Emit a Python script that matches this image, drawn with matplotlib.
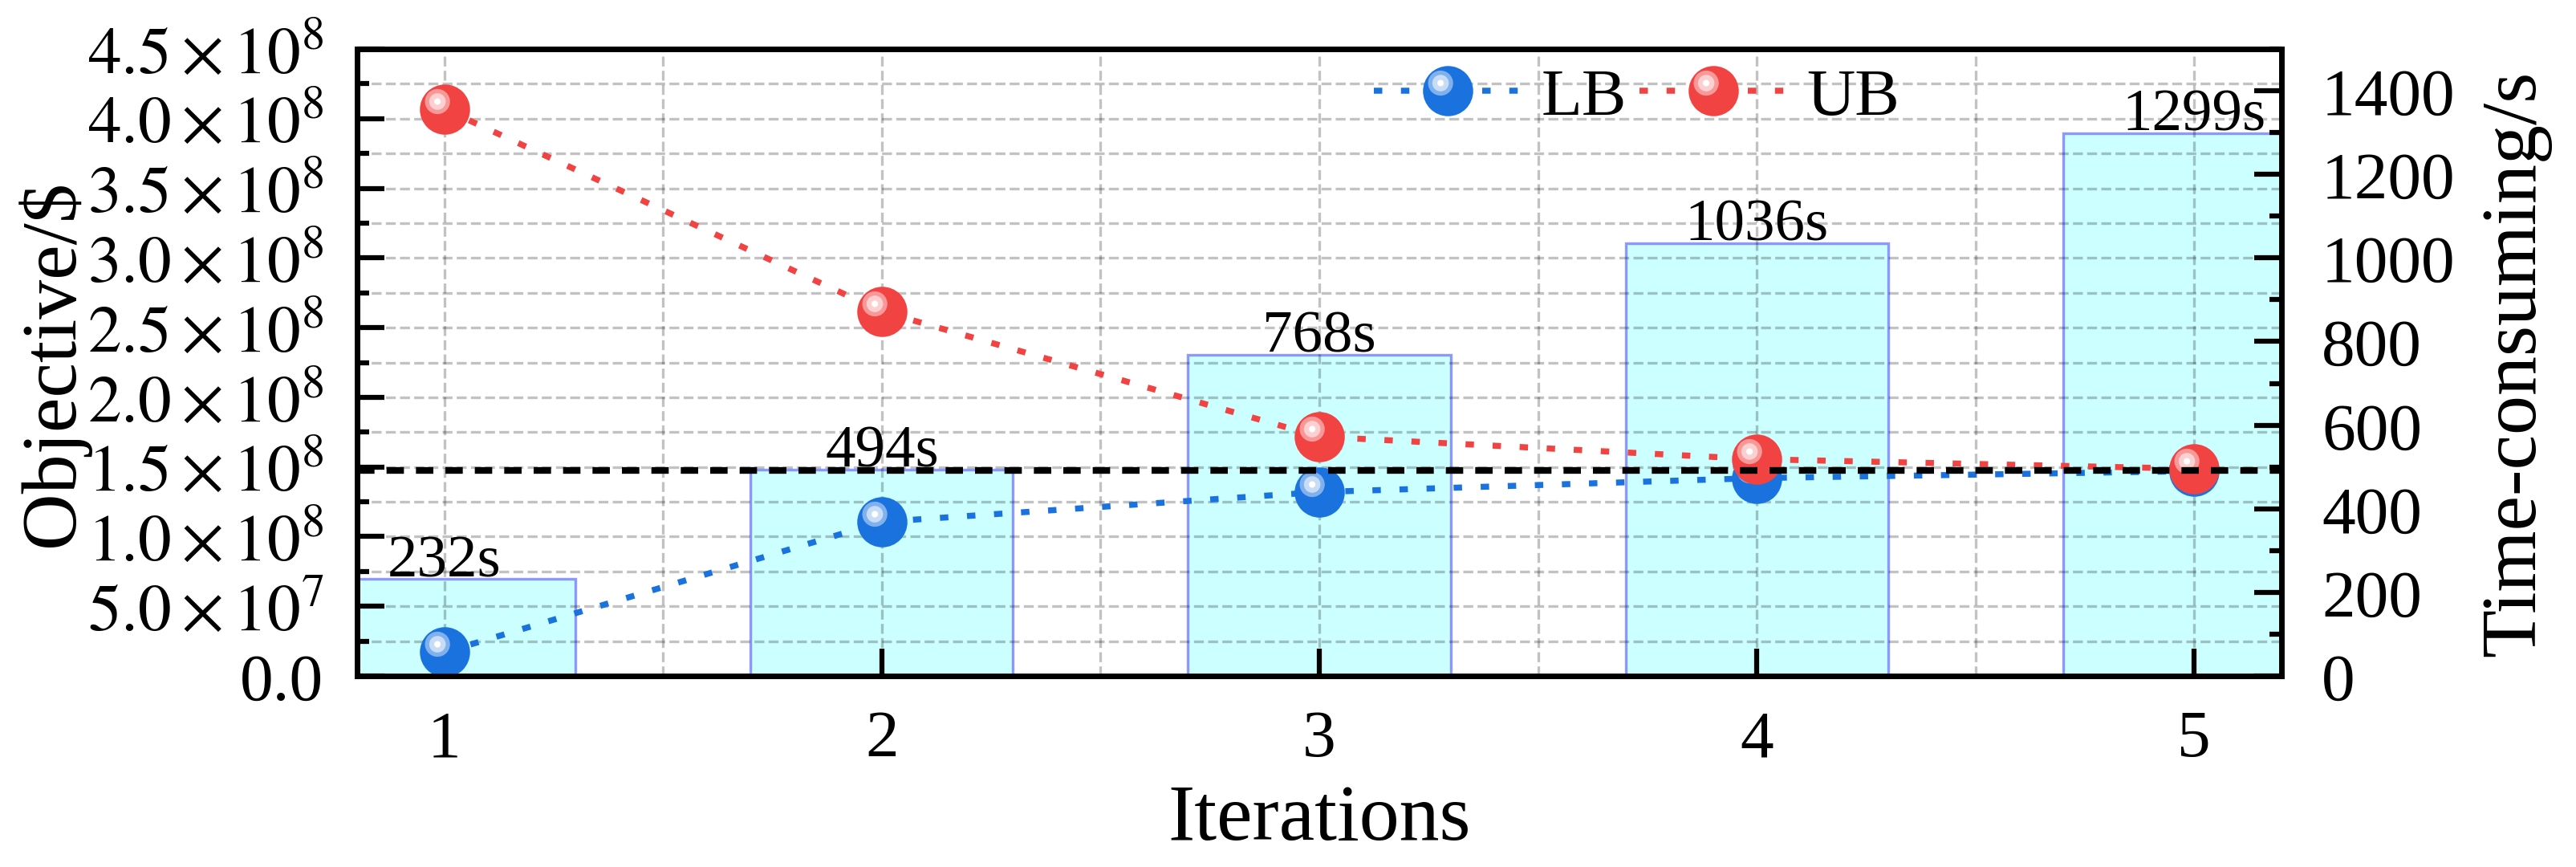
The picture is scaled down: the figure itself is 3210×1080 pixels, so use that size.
import numpy as np
import matplotlib
matplotlib.use('Agg')
import matplotlib.pyplot as plt
from matplotlib.path import Path
from matplotlib.markers import MarkerStyle
from matplotlib.lines import Line2D
from matplotlib.legend_handler import HandlerTuple
from matplotlib.ticker import MultipleLocator, FuncFormatter

plt.rcParams['font.family'] = ['Liberation Serif', 'DejaVu Serif']
plt.rcParams['mathtext.fontset'] = 'stix'

#%% data
iterations = [1, 2, 3, 4, 5]
lower_bound = [0.17e8, 1.106e8, 1.32e8, 1.42e8, 1.47e8]
upper_bound = [4.07e8, 2.616e8, 1.717e8, 1.556e8, 1.487e8]
optimum = 1.475e8
time_cost = [232, 494, 768, 1036, 1299]
time_labels = ['232s', '494s', '768s', '1036s', '1299s']

#%% "glossy ball" markers: base disc + offset highlight discs
def disc(cx, cy, r):
    c = Path.circle((cx, cy), r)
    # lone MOVETO keeps all layers on the same scale
    anchor = Path([[1.0, 0.0]], [Path.MOVETO])
    return MarkerStyle(Path.make_compound_path(c, anchor))

base_mk = disc(0, 0, 1.0)
hl_off = (-0.30, 0.32)
hl_layers = [(0.50, 0.45), (0.33, 0.75), (0.13, 1.0)]  # radius, whiteness

def lighten(col, f):
    rgb = np.array(matplotlib.colors.to_rgb(col))
    return tuple(rgb + (1 - rgb) * f)

ms = 15

def balls(ax, x, y, col, z):
    hs = [ax.plot(x, y, ls='none', marker=base_mk, ms=ms, mfc=col, mec='none', zorder=z)[0]]
    for r, f in hl_layers:
        h, = ax.plot(x, y, ls='none', marker=disc(hl_off[0], hl_off[1], r), ms=ms,
                     mfc=lighten(col, f), mec='none', zorder=z + 0.01)
        hs.append(h)
    return hs

#%% plot
fig = plt.figure(figsize=(10.7, 3.6033), dpi=300)
ax = fig.add_axes([0.1386, 0.2202, 0.8857 - 0.1386, 0.9426 - 0.2202])
ax2 = ax.twinx()
ax.set_zorder(ax2.get_zorder() + 1)
ax.patch.set_visible(False)

ax2.bar(iterations, time_cost, width=0.6, facecolor=(0, 1, 1, 0.2),
        edgecolor=(0.2, 0.2, 1, 0.5), linewidth=0.8)
for xi, v, s in zip(iterations, time_cost, time_labels):
    ax2.text(xi, v + 8, s, ha='center', va='baseline', fontsize=18)

blue = '#1a72df'
red = '#f24343'
dots = (0, (1.4, 3.1))
ax.plot(iterations, lower_bound, ls=dots, lw=1.8, color=blue, zorder=2)
lb_h = balls(ax, iterations, lower_bound, blue, 2.05)
ax.plot(iterations, upper_bound, ls=dots, lw=1.8, color=red, zorder=2.1)
ub_h = balls(ax, iterations, upper_bound, red, 2.15)
ax.axhline(optimum, color='black', lw=2.0, ls=(0, (2.6, 1.8)), zorder=3)

ax.set_xlim(0.8, 5.2)
ax.set_ylim(0, 4.5e8)
ax2.set_ylim(0, 1500)

ax.xaxis.set_major_locator(MultipleLocator(1))
ax.xaxis.set_minor_locator(MultipleLocator(0.5))
ax.yaxis.set_major_locator(MultipleLocator(0.5e8))
ax.yaxis.set_minor_locator(MultipleLocator(0.25e8))
ax2.yaxis.set_major_locator(MultipleLocator(200))
ax2.yaxis.set_minor_locator(MultipleLocator(100))

def sci(v, pos):
    if v == 0:
        return '0.0'
    e = int(np.floor(np.log10(abs(v)) + 1e-9))
    return r'$%.1f\times10^{%d}$' % (v / 10**e, e)

ax.yaxis.set_major_formatter(FuncFormatter(sci))

ax.tick_params(axis='both', which='major', direction='in', length=8.2, width=1.5, labelsize=20)
ax.tick_params(axis='both', which='minor', direction='in', length=3.6, width=1.5)
ax.tick_params(axis='x', which='minor', length=0)
ax.tick_params(axis='y', which='major', pad=10)
ax.tick_params(axis='x', which='major', pad=10)
ax2.tick_params(axis='y', which='major', direction='in', length=8.2, width=1.5, labelsize=20, pad=12)
ax2.tick_params(axis='y', which='minor', direction='in', length=3.6, width=1.5)

for a in (ax, ax2):
    for sp in a.spines.values():
        sp.set_linewidth(1.6)

ax.grid(True, which='both', color='black', alpha=0.24, lw=0.8, ls='--')

ax.set_xlabel('Iterations', fontsize=24, labelpad=4)
ax.set_ylabel('Objective/$', fontsize=23.5)
ax.yaxis.set_label_coords(-0.139, 0.5)
ax2.set_ylabel('Time-consuming/s', fontsize=23.5)
ax2.yaxis.set_label_coords(1.103, 0.5)

lb_leg = Line2D([], [], ls=dots, lw=1.8, color=blue)
ub_leg = Line2D([], [], ls=dots, lw=1.8, color=red)
ax.legend([tuple([lb_leg] + lb_h), tuple([ub_leg] + ub_h)], ['LB', 'UB'],
          handler_map={tuple: HandlerTuple(ndivide=1)},
          loc='center', bbox_to_anchor=(0.665, 0.922), ncol=2, frameon=False,
          fontsize=20, numpoints=1, handlelength=2.2, handletextpad=0.3,
          columnspacing=0.2)

plt.savefig('out.png', dpi=300)
